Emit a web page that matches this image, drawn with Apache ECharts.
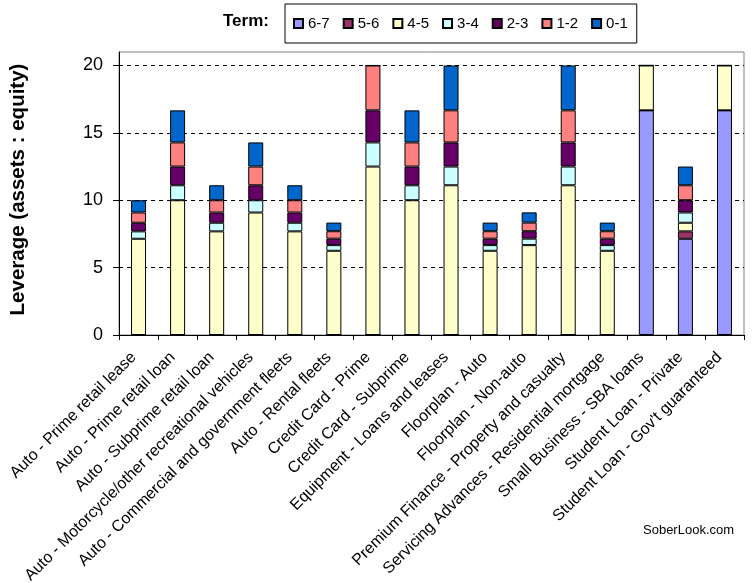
<!DOCTYPE html>
<html>
<head>
<meta charset="utf-8">
<script src="https://cdn.jsdelivr.net/npm/echarts@6/dist/echarts.min.js"></script>
<style>
html,body{margin:0;padding:0;background:#fff;}
#chart{width:753px;height:583px;}
</style>
</head>
<body>
<div id="chart"></div>
<script>
const categories = [
  'Auto - Prime retail lease',
  'Auto - Prime retail loan',
  'Auto - Subprime retail loan',
  'Auto - Motorcycle/other recreational vehicles',
  'Auto - Commercial and government fleets',
  'Auto - Rental fleets',
  'Credit Card - Prime',
  'Credit Card - Subprime',
  'Equipment - Loans and leases',
  'Floorplan - Auto',
  'Floorplan - Non-auto',
  'Premium Finance - Property and casualty',
  'Servicing Advances - Residential mortgage',
  'Small Business - SBA loans',
  'Student Loan - Private',
  "Student Loan - Gov't guaranteed"
];
const seriesNames = ['6-7', '5-6', '4-5', '3-4', '2-3', '1-2', '0-1'];
const seriesColors = ['#9999FF', '#993366', '#FFFFCC', '#CCFFFF', '#660066', '#FF8080', '#0066CC'];
const term67 = [0, 0, 0, 0, 0, 0, 0, 0, 0, 0, 0, 0, 0, 16.67, 7.14, 16.67];
const term56 = [0, 0, 0, 0, 0, 0, 0, 0, 0, 0, 0, 0, 0, 0, 0.55, 0];
const term45 = [7.14, 10, 7.69, 9.09, 7.69, 6.25, 12.5, 10, 11.11, 6.25, 6.67, 11.11, 6.25, 3.33, 0.64, 3.33];
const term34 = [0.55, 1.11, 0.64, 0.91, 0.64, 0.42, 1.79, 1.11, 1.39, 0.42, 0.48, 1.39, 0.42, 0, 0.76, 0];
const term23 = [0.64, 1.39, 0.76, 1.11, 0.76, 0.48, 2.38, 1.39, 1.79, 0.48, 0.55, 1.79, 0.48, 0, 0.91, 0];
const term12 = [0.76, 1.79, 0.91, 1.39, 0.91, 0.55, 3.33, 1.79, 2.38, 0.55, 0.64, 2.38, 0.55, 0, 1.11, 0];
const term01 = [0.91, 2.38, 1.11, 1.79, 1.11, 0.64, 0, 2.38, 3.33, 0.64, 0.76, 3.33, 0.64, 0, 1.39, 0];
const yTicks = [0, 5, 10, 15, 20];

const seriesData = [term67, term56, term45, term34, term23, term12, term01];
const FONT = "'Liberation Sans', Arial, sans-serif";

const chart = echarts.init(document.getElementById('chart'), null, {renderer: 'canvas'});
chart.setOption({
  animation: false,
  backgroundColor: '#ffffff',
  textStyle: {fontFamily: FONT, color: '#000'},
  grid: {
    left: 119, top: 52, right: 9, bottom: 248,
    containLabel: false,
    outerBoundsMode: 'none',
    show: true, borderColor: '#808080', borderWidth: 1, backgroundColor: 'transparent'
  },
  legend: {
    data: seriesNames,
    left: 285, top: 4,
    orient: 'horizontal',
    itemWidth: 9, itemHeight: 9,
    itemGap: 13,
    padding: [12, 9, 12, 8],
    borderColor: '#000', borderWidth: 1,
    icon: 'rect',
    textStyle: {fontFamily: FONT, fontSize: 15, color: '#000'},
    selectedMode: false
  },
  graphic: [
    {type: 'text', left: 223, top: 13, style: {text: 'Term:', font: "bold 17px " + FONT, fill: '#000'}},
    {type: 'text', left: 643, top: 524, style: {text: 'SoberLook.com', font: "13px " + FONT, fill: '#000'}}
  ],
  xAxis: {
    type: 'category',
    data: categories,
    boundaryGap: true,
    axisLine: {lineStyle: {color: '#000', width: 1}},
    axisTick: {show: true, length: 5, lineStyle: {color: '#000'}},
    axisLabel: {interval: 0, rotate: 45, fontSize: 16, fontFamily: FONT, color: '#000', margin: 15, padding: [0, 7, 0, 0]},
    splitLine: {show: false}
  },
  yAxis: {
    type: 'value',
    min: 0, max: 21, interval: 5,
    name: 'Leverage (assets : equity)',
    nameLocation: 'middle',
    nameGap: 90,
    nameTextStyle: {fontFamily: FONT, fontSize: 20.5, fontWeight: 'bold', color: '#000', padding: [0, 0, 0, 8]},
    axisLine: {show: true, lineStyle: {color: '#000', width: 1}},
    axisTick: {show: true, length: 6, lineStyle: {color: '#000'}, customValues: yTicks},
    axisLabel: {fontSize: 18, fontFamily: FONT, color: '#000', margin: 16, customValues: yTicks},
    splitLine: {show: true, lineStyle: {color: '#000', type: [4, 4], width: 1}}
  },
  series: seriesNames.map((name, i) => ({
    name: name,
    type: 'bar',
    stack: 'lev',
    barWidth: 15,
    data: seriesData[i],
    itemStyle: {color: seriesColors[i], borderColor: '#000', borderWidth: 1}
  }))
});
</script>
</body>
</html>
